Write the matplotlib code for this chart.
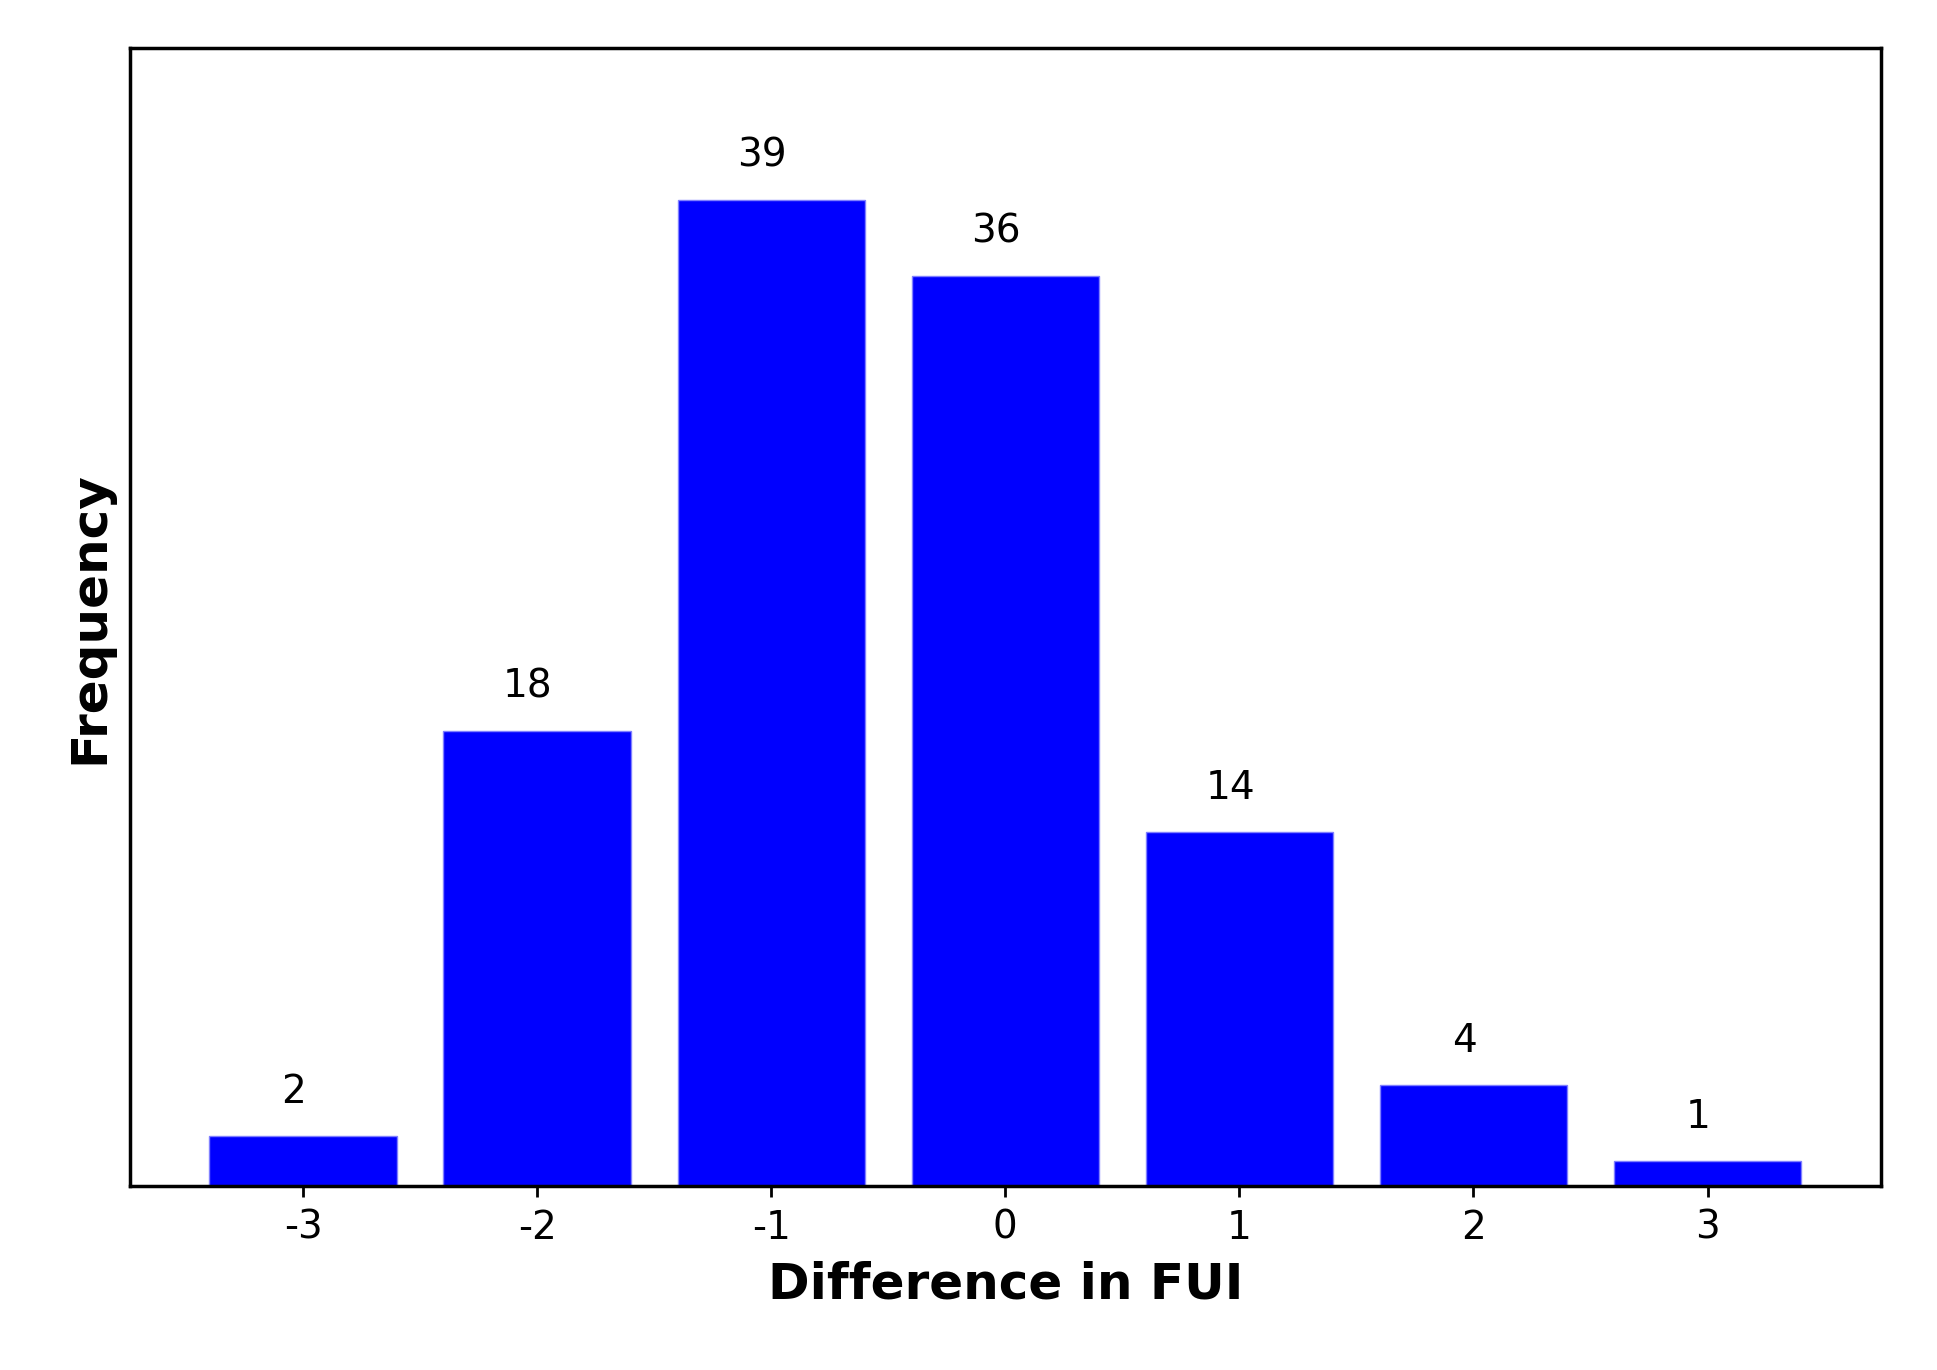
import matplotlib
matplotlib.use("Agg")
import matplotlib.pyplot as plt

categories = [-3, -2, -1, 0, 1, 2, 3]
frequency = [2, 18, 39, 36, 14, 4, 1]
tick_labels = ["-3", "-2", "-1", "0", "1", "2", "3"]

fig = plt.figure(figsize=(19.37, 13.7), dpi=100)
ax = fig.add_axes([0.067, 0.134, 0.904, 0.831])
ax.bar(categories, frequency, width=0.8, color="#0000ff", edgecolor="#8080ff", linewidth=1)
for x, v in zip(categories, frequency):
    ax.text(x - 0.04, v + 1.0, str(v), ha="center", va="bottom", fontsize=28)
ax.set_xlim(-3.74, 3.74)
ax.set_ylim(0, 45)
ax.set_yticks([])
ax.set_xticks(categories)
ax.set_xticklabels(tick_labels, fontsize=28)
ax.tick_params(axis="x", length=8, width=2, pad=8)
for s in ax.spines.values():
    s.set_linewidth(2.5)
ax.set_xlabel("Difference in FUI", fontsize=36, fontweight="bold", labelpad=10)
ax.set_ylabel("Frequency", fontsize=36, fontweight="bold", labelpad=12)
fig.savefig("out.png", dpi=100)
